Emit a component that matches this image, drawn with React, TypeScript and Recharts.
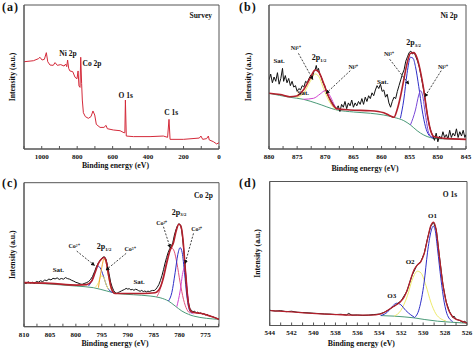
import React from 'react';
import { LineChart, Line, XAxis, YAxis, ReferenceArea, ReferenceDot, ReferenceLine } from 'recharts';

type Pt = { be: number; v: number };
const pts = (rows: number[][]): Pt[] => rows.map(([be, v]) => ({ be, v }));

// (a) survey spectrum
const surveyTicks = [1100, 1000, 900, 800, 700, 600, 500, 400, 300, 200, 100, 0];
const surveyMajors = [1000, 800, 600, 400, 200, 0];
const surveyData = pts([
  [1100, 60.6], [1047, 61.3], [1019, 62.7], [1010, 63.7], [998, 61.8], [985, 62.3], [974, 66.9], [966, 60.6],
  [953, 58.3], [935, 58.1], [925, 60.0], [912, 58.1], [893, 58.6], [874, 57.6], [865, 59.0], [859, 57.2],
  [854, 61.8], [848, 56.0], [841, 54.2], [825, 53.7], [812, 49.8], [801, 48.8], [795, 54.2], [790, 43.8],
  [784, 42.8], [780, 63.7], [775, 45.6], [771, 34.0], [765, 25.2], [754, 22.5], [737, 21.3], [722, 22.5],
  [711, 26.4], [701, 23.6], [692, 17.1], [671, 15.0], [649, 15.0], [637, 16.4], [630, 14.1], [596, 13.2],
  [558, 12.7], [536, 11.3], [531, 11.3], [528, 34.0], [523, 9.0], [483, 8.6], [389, 8.6], [314, 9.0],
  [290, 8.1], [282, 20.6], [276, 6.7], [201, 6.7], [111, 7.6], [102, 9.0], [92, 6.7], [70, 7.2], [60, 9.0],
  [55, 6.3], [32, 5.1], [13, 3.5], [0, 4.4],
]);
const surveyNotes: [string, number, number][] = [
  ['Survey', 103, 93], ['Ni 2p', 852, 66.4], ['Co 2p', 716, 59.5], ['O 1s', 526, 37.5], ['C 1s', 269, 25.5],
];

// (b) Ni 2p
const niTicks = [880, 877.5, 875, 872.5, 870, 867.5, 865, 862.5, 860, 857.5, 855, 852.5, 850, 847.5, 845];
const niMajors = [880, 875, 870, 865, 860, 855, 850, 845];
const niRaw = pts([
  [880.0, 48], [879.7, 52], [879.4, 46], [879.1, 50], [878.8, 47], [878.5, 53], [878.2, 45], [877.9, 49],
  [877.6, 56], [877.4, 47], [877.1, 51], [876.8, 46], [876.5, 49], [876.2, 44], [875.9, 47], [875.6, 43],
  [875.3, 44], [875.0, 40], [874.7, 42], [874.4, 41], [874.1, 44], [873.8, 43], [873.5, 47], [873.2, 46],
  [872.9, 49], [872.6, 51], [872.3, 50], [872.0, 54], [871.8, 55], [871.6, 58], [871.4, 54], [871.2, 56],
  [871.0, 52], [870.7, 50], [870.4, 46], [870.1, 44], [869.8, 40], [869.5, 37], [869.2, 35], [868.9, 33],
  [868.6, 31], [868.3, 29], [868.0, 28], [867.7, 30], [867.4, 26], [867.1, 31], [866.8, 29], [866.5, 33],
  [866.2, 28], [865.9, 32], [865.6, 30], [865.3, 34], [865.0, 29], [864.7, 32], [864.4, 30], [864.1, 33],
  [863.8, 31], [863.5, 35], [863.2, 31], [862.9, 36], [862.6, 33], [862.3, 37], [862.0, 35], [861.7, 39],
  [861.4, 37], [861.1, 41], [860.8, 44], [860.5, 42], [860.2, 45], [859.9, 40], [859.6, 41], [859.3, 36],
  [859.0, 38], [858.7, 32], [858.4, 29], [858.1, 33], [857.8, 36], [857.5, 35], [857.2, 40], [856.9, 44],
  [856.6, 48], [856.3, 52], [856.0, 55], [855.7, 61], [855.4, 64], [855.1, 67], [854.8, 68], [854.5, 66],
  [854.2, 67], [853.9, 64], [853.6, 61], [853.3, 57], [853.0, 51], [852.7, 45], [852.4, 38], [852.1, 30],
  [851.8, 22], [851.5, 16], [851.2, 12], [850.9, 9], [850.6, 6], [850.3, 11], [850.0, 5], [849.7, 9],
  [849.4, 7], [849.1, 12], [848.8, 8], [848.5, 10], [848.2, 7], [847.9, 13], [847.6, 8], [847.3, 11],
  [847.0, 9], [846.7, 14], [846.4, 8], [846.1, 12], [845.8, 9], [845.5, 13], [845.2, 8], [845.0, 10],
]);
const niFit = pts([
  [880, 38.7], [878, 37.8], [876.3, 36.3], [875.1, 36.8], [873.9, 41.0], [872.7, 49.1], [871.8, 54.9],
  [871.2, 53.7], [870.3, 45.6], [869.4, 36.3], [868.5, 29.9], [867.9, 28.0], [865.6, 27.1], [862.0, 26.6],
  [859.6, 25.2], [858.4, 22.9], [857.8, 22.0], [857.25, 27.1], [856.65, 36.3], [856.06, 47.9], [855.47, 59.5],
  [854.87, 66.4], [854.28, 66.9], [853.68, 63.0], [853.09, 53.7], [852.5, 41.0], [851.9, 24.8], [851.31, 13.2],
  [850.71, 8.6], [848.93, 7.4], [845, 6.7],
]);
const niBg = pts([
  [880, 38.7], [876.26, 35.9], [873.88, 34.5], [871.5, 31.7], [867.94, 27.1], [864.97, 25.7], [862.0, 24.8],
  [859.62, 23.6], [857.84, 22.0], [856.06, 19.7], [854.87, 16.7], [853.68, 12.7], [852.5, 9.7], [851.31, 7.9],
  [850.12, 7.2], [845, 6.7],
]);
const niHalfA = pts([
  [875.07, 35.9], [873.88, 38.7], [872.69, 46.8], [871.8, 52.1], [871.21, 50.7], [870.32, 42.1], [869.43, 34.0],
  [868.53, 28.9], [867.94, 27.1],
]);
const niHalfB = pts([
  [873.88, 34.5], [872.1, 35.2], [870.91, 38.2], [870.02, 40.5], [869.25, 37.5], [868.53, 31.7], [867.94, 27.1],
]);
const niMainA = pts([
  [856.65, 21.3], [856.06, 34.0], [855.47, 52.5], [854.87, 63.7], [854.4, 63.0], [853.98, 57.2], [853.39, 43.3],
  [852.79, 27.1], [852.2, 15.5], [851.6, 9.7], [850.71, 7.4],
]);
const niMainB = pts([
  [854.87, 16.7], [853.98, 27.1], [853.39, 37.5], [853.09, 40.5], [852.73, 37.5], [852.2, 23.6], [851.6, 10.9],
  [850.71, 7.4],
]);
const niNotes: [string, number, number, number, string?][] = [
  ['Ni 2p', 848.0, 93, 7.5], ['Sat.', 878.2, 61.1, 7], ['Ni³⁺', 875.25, 70.4, 6], ['2p', 871.1, 63.7, 8, '1/2'],
  ['Ni²⁺', 865.0, 57.2, 6], ['Sat.', 873.9, 38.7, 7], ['Sat.', 859.8, 46.8, 7], ['Ni³⁺', 858.7, 65.7, 6],
  ['2p', 854.3, 73.8, 8, '3/2'], ['Ni²⁺', 849.1, 57.2, 6],
];
const niArrows = [
  [874.77, 66.4, 872.22, 48.4], [865.56, 54.4, 869.84, 38.7], [858.55, 62.3, 855.17, 45.1], [849.41, 54.4, 852.32, 36.3],
];

// (c) Co 2p
const coTicks = [810, 807.5, 805, 802.5, 800, 797.5, 795, 792.5, 790, 787.5, 785, 782.5, 780, 777.5, 775, 772.5];
const coMajors = [810, 805, 800, 795, 790, 785, 780, 775];
const coRaw = pts([
  [810, 30.6], [809.6, 30.0], [809.2, 31.2], [808.8, 30.4], [808.4, 30.9], [808.0, 30.1], [807.6, 31.4],
  [807.2, 31.0], [806.8, 31.9], [806.4, 31.3], [806.0, 32.4], [805.6, 32.0], [805.2, 33.1], [804.8, 32.5],
  [804.4, 33.6], [804.0, 33.2], [803.6, 33.9], [803.2, 32.8], [802.8, 33.5], [802.4, 33.0], [802.0, 34.1],
  [801.6, 33.4], [801.2, 33.0], [800.8, 32.2], [800.4, 31.6], [800.0, 30.8], [799.6, 30.4], [799.2, 29.7],
  [798.8, 29.4], [798.4, 30.0], [798.0, 30.5], [797.6, 31.2], [797.2, 32.6], [796.8, 34.8], [796.4, 38.2],
  [796.0, 42.0], [795.6, 44.6], [795.2, 46.8], [794.8, 48.2], [794.5, 48.6], [794.2, 47.0], [793.9, 42.5],
  [793.6, 36.8], [793.3, 31.0], [793.0, 27.5], [792.7, 25.0], [792.4, 23.6], [792.1, 23.1], [791.8, 23.8],
  [791.5, 24.3], [791.2, 24.9], [790.9, 25.4], [790.6, 25.9], [790.3, 26.6], [790.0, 26.1], [789.7, 26.4],
  [789.4, 25.6], [789.1, 25.9], [788.8, 25.3], [788.5, 26.0], [788.2, 25.7], [787.9, 25.0], [787.6, 24.6],
  [787.3, 25.2], [787.0, 24.4], [786.7, 24.8], [786.4, 24.2], [786.1, 24.7], [785.8, 24.4], [785.5, 24.9],
  [785.2, 25.2], [784.9, 25.1], [784.6, 25.9], [784.3, 27.4], [784.0, 29.2], [783.7, 32.0], [783.4, 35.4],
  [783.1, 39.6], [782.8, 44.2], [782.5, 48.1], [782.2, 51.6], [781.9, 54.2], [781.6, 55.6], [781.3, 58.5],
  [781.0, 63.6], [780.7, 67.4], [780.4, 70.2], [780.1, 71.6], [779.8, 70.4], [779.6, 67.2], [779.4, 61.0],
  [779.2, 53.5], [779.0, 45.0], [778.8, 34.2], [778.6, 26.0], [778.4, 19.2], [778.2, 15.1], [778.0, 12.6],
  [777.7, 11.2], [777.4, 10.4], [777.1, 10.8], [776.8, 9.6], [776.5, 10.1], [776.2, 9.2], [775.9, 9.6],
  [775.6, 8.8], [775.3, 9.1], [775.0, 8.2], [774.7, 8.5], [774.4, 7.7], [774.1, 7.4], [773.8, 7.0],
  [773.5, 6.8], [773.2, 6.3], [772.9, 5.9], [772.6, 5.4], [772.4, 5.1],
]);
const coFit = pts([
  [810, 30.6], [805.0, 30.1], [799.83, 28.9], [797.9, 29.2], [796.94, 31.7], [796.3, 37.5], [795.65, 44.0],
  [795.01, 47.2], [794.56, 48.1], [794.17, 45.6], [793.72, 36.3], [793.08, 25.9], [792.44, 23.1], [790.18, 23.1],
  [786.97, 23.1], [784.72, 23.6], [783.75, 27.1], [783.11, 34.0], [782.46, 44.4], [781.82, 53.2], [781.18, 58.3],
  [780.66, 66.4], [780.15, 71.1], [779.76, 69.9], [779.38, 61.8], [778.99, 44.4], [778.6, 25.9], [778.22, 14.4],
  [777.64, 10.2], [776.03, 9.3], [772.36, 5.1],
]);
const coBg = pts([
  [810, 30.6], [805.0, 29.6], [799.83, 28.2], [796.62, 27.1], [794.04, 24.8], [792.11, 23.1], [788.9, 22.2],
  [785.68, 21.3], [783.75, 20.1], [782.14, 17.8], [780.86, 14.4], [779.57, 10.9], [778.28, 8.6], [777.32, 7.4],
  [772.36, 5.1],
]);
const coHalfA = pts([
  [797.58, 28.2], [796.94, 31.7], [796.3, 38.0], [795.78, 42.1], [795.33, 41.0], [794.69, 35.2], [794.04, 28.2],
  [793.4, 24.8], [792.76, 23.6],
]);
const coHalfB = pts([[796.3, 27.1], [795.65, 30.6], [795.14, 35.2], [794.69, 34.7], [794.17, 29.4], [793.72, 25.9]]);
const coHalfC = pts([
  [795.65, 27.1], [795.01, 41.0], [794.56, 47.2], [794.17, 44.4], [793.72, 35.2], [793.27, 27.1], [792.76, 24.1],
]);
const coMainA = pts([
  [784.39, 20.8], [783.75, 25.9], [783.11, 35.2], [782.46, 45.6], [781.82, 53.2], [781.5, 54.6], [781.05, 52.5],
  [780.53, 44.4], [779.89, 30.6], [779.25, 19.0], [778.6, 12.0], [777.96, 9.3],
]);
const coMainB = pts([
  [782.14, 17.8], [781.5, 23.6], [780.86, 37.5], [780.34, 50.2], [779.89, 54.9], [779.5, 51.4], [779.05, 37.5],
  [778.6, 21.3], [778.15, 12.0], [777.64, 9.3],
]);
const coMainC = pts([
  [780.53, 13.9], [779.89, 24.8], [779.38, 37.5], [779.05, 41.0], [778.73, 35.2], [778.41, 21.3], [777.96, 11.6],
  [777.32, 8.8],
]);
const coNotes: [string, number, number, number, string?][] = [
  ['Co 2p', 775.4, 91.4, 7.5], ['2p', 780.08, 79.6, 8, '3/2'], ['Co²⁺', 783.43, 72.2, 6], ['Co³⁺', 776.67, 67.6, 6],
  ['Co²⁺', 800.35, 56.0, 6], ['2p', 794.56, 55.6, 8, '1/2'], ['Co³⁺', 789.54, 53.7, 6], ['Sat.', 803.37, 39.1, 7],
  ['Sat.', 787.8, 31.0, 7],
];
const coArrows = [
  [799.83, 52.5, 796.42, 42.6], [790.31, 50.9, 794.17, 39.4], [783.11, 69.4, 781.82, 54.9], [777.32, 64.8, 778.92, 44.0],
];

// (d) O 1s
const oTicks = [544, 543, 542, 541, 540, 539, 538, 537, 536, 535, 534, 533, 532, 531, 530, 529, 528, 527, 526];
const oMajors = [544, 542, 540, 538, 536, 534, 532, 530, 528, 526];
const oRaw = pts([
  [544, 10.6], [543.5, 10.0], [543, 10.3], [542.5, 9.6], [542, 9.9], [541.5, 9.2], [541, 9.0], [540.5, 8.8],
  [540, 8.5], [539.5, 8.3], [539, 8.0], [538.5, 7.9], [538, 7.6], [537.5, 7.8], [537, 7.3], [536.8, 8.4],
  [536.5, 7.2], [536, 7.3], [535.5, 7.0], [535, 7.2], [534.5, 7.6], [534, 7.9], [533.5, 9.3], [533, 11.6],
  [532.5, 14.3], [532, 17.2], [531.5, 23.6], [531, 35.0], [530.6, 41.4], [530.2, 44.6], [529.9, 50.2],
  [529.6, 60.5], [529.3, 69.1], [529.05, 71.6], [528.8, 66.4], [528.5, 46.8], [528.2, 28.6], [527.9, 16.4],
  [527.6, 9.8], [527.3, 5.6], [527.2, 6.6], [527, 4.4], [526.7, 3.6], [526.4, 2.4], [526.2, 2.9], [526, 1.6],
]);
const oFit = pts([
  [543.94, 10.4], [542.41, 9.7], [540.89, 8.8], [539.36, 8.1], [537.84, 7.6], [536.31, 7.2], [534.79, 7.2],
  [533.87, 8.1], [533.26, 10.4], [532.65, 13.4], [532.04, 16.7], [531.74, 19.7], [531.43, 25.0], [531.13, 32.4],
  [530.82, 38.9], [530.52, 42.1], [530.21, 44.4], [529.91, 49.8], [529.6, 60.2], [529.3, 69.4], [529.05, 71.8],
  [528.84, 67.6], [528.53, 48.6], [528.23, 30.1], [527.77, 12.7], [527.16, 5.1], [526.55, 3.2], [526.0, 1.6],
]);
const oBg = pts([
  [533.87, 6.9], [532.65, 6.5], [531.74, 6.0], [530.82, 5.3], [529.91, 4.2], [528.69, 3.0], [527.47, 2.3], [526, 1.6],
]);
const oPeak3 = pts([
  [533.87, 6.9], [533.26, 9.3], [532.8, 13.4], [532.41, 15.5], [532.04, 14.4], [531.58, 10.4], [531.13, 7.4],
  [530.82, 5.8],
]);
const oPeak2 = pts([
  [532.65, 6.5], [532.04, 10.4], [531.43, 20.8], [530.97, 32.4], [530.52, 37.7], [530.21, 36.6], [529.75, 27.8],
  [529.3, 16.2], [528.84, 8.1], [528.38, 4.6], [527.93, 3.2],
]);
const oPeak1 = pts([
  [530.82, 5.3], [530.36, 11.6], [529.91, 30.1], [529.6, 50.9], [529.3, 64.8], [529.08, 69.0], [528.9, 66.0],
  [528.69, 53.2], [528.38, 32.4], [528.08, 16.2], [527.77, 6.9], [527.31, 2.8],
]);
const oNotes: [string, number, number, number][] = [
  ['O 1s', 527.56, 91.0, 7.5], ['O1', 529.14, 75.7, 7], ['O2', 531.19, 44.4, 7], ['O3', 532.87, 20.4, 7],
];

const serif = '"Liberation Serif", "Times New Roman", serif';
const INK = '#111';
const AXIS = '#555';

const fmt = (majors: number[]) => (v: number) => (majors.includes(v) ? String(v) : '');

const noteShape = (text: string, size: number, sub?: string) => (p: any) => (
  <text x={p.cx} y={p.cy} textAnchor="middle" dominantBaseline="central" fontFamily={serif} fontWeight="bold" fontSize={size} fill={INK}>
    {text}
    {sub ? <tspan fontSize={size * 0.6} dy={size * 0.3}>{sub}</tspan> : null}
  </text>
);

const notes = (list: any[], tag: string) =>
  list.map(([t, be, v, size, sub], i) => (
    <ReferenceDot key={`${tag}n${i}`} x={be} y={v} r={1} ifOverflow="visible" shape={noteShape(t, size, sub)} />
  ));

const arrows = (list: number[][], tag: string) =>
  list.map(([x1, y1, x2, y2], i) => (
    <ReferenceLine
      key={`${tag}a${i}`}
      segment={[{ x: x1, y: y1 }, { x: x2, y: y2 }]}
      stroke={INK}
      strokeWidth={0.8}
      strokeDasharray="2 1.5"
      markerEnd={`url(#head-${tag})`}
      ifOverflow="visible"
    />
  ));

const series = (key: string, data: Pt[], color: string, width = 1, smooth = true) => (
  <Line
    key={key}
    data={data}
    dataKey="v"
    type={smooth ? 'monotone' : 'linear'}
    stroke={color}
    strokeWidth={width}
    dot={false}
    isAnimationActive={false}
  />
);

type PanelProps = {
  tag: string;
  left: number;
  top: number;
  height: number;
  margin: { top: number; right: number; bottom: number; left: number };
  yWidth: number;
  yDx: number;
  xDx: number;
  xOffset: number;
  domain: [number, number];
  ticks: number[];
  majors: number[];
  children: React.ReactNode;
};

const Panel = ({ tag, left, top, height, margin, yWidth, yDx, xDx, xOffset, domain, ticks, majors, children }: PanelProps) => (
  <div style={{ position: 'absolute', left, top, width: 237, height }}>
    <div style={{ position: 'absolute', left: 2, top: 0, fontFamily: serif, fontWeight: 'bold', fontSize: 12, letterSpacing: 1, color: INK }}>
      ({tag})
    </div>
    <LineChart width={237} height={height} margin={margin}>
      <defs>
        <marker id={`head-${tag}`} viewBox="0 0 6 6" refX="5" refY="3" markerWidth="5" markerHeight="5" orient="auto">
          <path d="M0,0 L6,3 L0,6 z" fill={INK} />
        </marker>
      </defs>
      <XAxis
        dataKey="be"
        type="number"
        domain={domain}
        reversed
        allowDataOverflow
        ticks={ticks}
        interval={0}
        tickFormatter={fmt(majors)}
        height={22}
        tickSize={-3}
        tickMargin={8}
        axisLine={{ stroke: AXIS }}
        tickLine={{ stroke: AXIS }}
        tick={{ fontSize: 7, fontFamily: serif, fontWeight: 'bold', fill: INK }}
        label={{ value: 'Binding energy (eV)', position: 'insideBottom', offset: xOffset, dx: xDx, fontSize: 7.8, fontFamily: serif, fontWeight: 'bold', fill: INK }}
      />
      <YAxis
        type="number"
        domain={[0, 100]}
        width={yWidth}
        tick={false}
        tickLine={false}
        axisLine={{ stroke: AXIS }}
        label={{ value: 'Intensity (a.u.)', angle: -90, position: 'center', dx: yDx, fontSize: 7.8, fontFamily: serif, fontWeight: 'bold', fill: INK }}
      />
      <ReferenceArea x1={domain[0]} x2={domain[1]} y1={0} y2={100} fill="none" stroke={AXIS} strokeWidth={1} />
      {children}
    </LineChart>
  </div>
);

const RED = '#b3202c';
const GREEN = '#4a9a78';
const BLUE = '#2e2ec8';
const MAGENTA = '#d044d0';
const YELLOW = '#eeea6a';
const ORANGE = '#f0a428';
const PINK = '#e0507a';
const VIOLET = '#7a48d8';

export default function App() {
  return (
    <div style={{ position: 'absolute', left: 0, top: 0, width: 474, height: 353, background: '#fff', overflow: 'hidden' }}>
      <Panel tag="a" left={0} top={0} height={176} margin={{ top: 5, right: 18, bottom: 5, left: 0 }} yWidth={24} yDx={0} xDx={-6} xOffset={3.3}
        domain={[0, 1100]} ticks={surveyTicks} majors={surveyMajors}>
        {series('survey', surveyData, '#d42a3a', 1, false)}
        {notes(surveyNotes.map(([t, be, v]) => [t, be, v, 7.5]), 'a')}
      </Panel>
      <Panel tag="b" left={237} top={0} height={176} margin={{ top: 5, right: 8, bottom: 5, left: 0 }} yWidth={32} yDx={-4.3} xDx={-2.5} xOffset={0}
        domain={[845, 880]} ticks={niTicks} majors={niMajors}>
        {series('niBg', niBg, GREEN)}
        {series('niHalfA', niHalfA, YELLOW)}
        {series('niHalfB', niHalfB, MAGENTA)}
        {series('niMainA', niMainA, BLUE)}
        {series('niMainB', niMainB, VIOLET)}
        {series('niRaw', niRaw, INK, 1, false)}
        {series('niFit', niFit, RED, 1.6)}
        {arrows(niArrows, 'b')}
        {notes(niNotes, 'b')}
      </Panel>
      <Panel tag="c" left={0} top={176} height={177} margin={{ top: 6.7, right: 18, bottom: 4.3, left: 0 }} yWidth={24} yDx={0} xDx={-6.5} xOffset={2.7}
        domain={[772.4, 810]} ticks={coTicks} majors={coMajors}>
        {series('coBg', coBg, GREEN)}
        {series('coHalfA', coHalfA, BLUE)}
        {series('coHalfB', coHalfB, YELLOW)}
        {series('coHalfC', coHalfC, ORANGE)}
        {series('coMainA', coMainA, PINK)}
        {series('coMainB', coMainB, BLUE)}
        {series('coMainC', coMainC, MAGENTA)}
        {series('coRaw', coRaw, INK, 1, false)}
        {series('coFit', coFit, RED, 1.6)}
        {arrows(coArrows, 'c')}
        {notes(coNotes, 'c')}
      </Panel>
      <Panel tag="d" left={237} top={176} height={177} margin={{ top: 5.5, right: 7, bottom: 5.5, left: 0 }} yWidth={32.7} yDx={3.65} xDx={-7} xOffset={1.5}
        domain={[526, 544]} ticks={oTicks} majors={oMajors}>
        {series('oBg', oBg, GREEN)}
        {series('oPeak2', oPeak2, YELLOW)}
        {series('oPeak3', oPeak3, BLUE)}
        {series('oPeak1', oPeak1, BLUE)}
        {series('oRaw', oRaw, INK, 1, false)}
        {series('oFit', oFit, RED, 1.3)}
        {notes(oNotes, 'd')}
      </Panel>
    </div>
  );
}
